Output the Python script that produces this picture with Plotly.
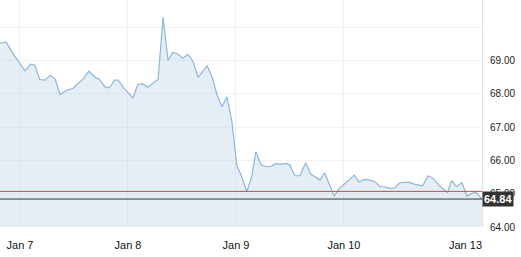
import plotly.graph_objects as go

# Trading-time position in hours since Jan 7 00:00 (weekend removed)
hours = [-4.4, -3.1, -1.8, 1.1, 2.4, 3.3, 4.4, 5.6, 6.7, 7.8, 8.9, 10.4, 11.8, 14.0, 15.3,
         16.7, 17.6, 18.9, 19.8, 21.1, 21.8, 23.1, 25.1, 26.2, 27.3, 28.4, 30.7, 31.8, 32.9,
         34.0, 35.1, 36.2, 37.3, 38.4, 39.6, 41.6, 42.7, 43.8, 44.9, 46.0, 47.1, 48.2, 49.1,
         50.4, 51.5, 52.4, 53.6, 54.8, 55.9, 56.9, 57.8, 59.1, 60.0, 61.1, 62.2, 63.5, 64.6,
         65.6, 66.7, 67.7, 68.9, 69.8, 71.0, 72.6, 74.3, 75.3, 76.7, 77.8, 78.9, 80.0, 81.1,
         82.2, 83.3, 84.4, 85.6, 86.4, 87.8, 89.5, 90.7, 91.8, 93.3, 95.0, 95.9, 97.0, 98.2,
         99.3, 100.4, 101.3, 102.2, 102.7]
prices = [69.52, 69.56, 69.26, 68.69, 68.89, 68.86, 68.43, 68.41, 68.56, 68.45, 67.98, 68.11,
          68.17, 68.44, 68.68, 68.50, 68.44, 68.21, 68.18, 68.41, 68.41, 68.17, 67.88, 68.29,
          68.30, 68.20, 68.44, 70.30, 69.01, 69.25, 69.19, 69.07, 69.19, 68.99, 68.50, 68.84,
          68.51, 67.96, 67.61, 67.91, 67.16, 65.83, 65.58, 65.06, 65.51, 66.26, 65.86, 65.81,
          65.83, 65.91, 65.88, 65.91, 65.86, 65.54, 65.54, 65.93, 65.59, 65.51, 65.41, 65.63,
          65.21, 64.93, 65.16, 65.36, 65.56, 65.36, 65.43, 65.41, 65.36, 65.21, 65.21, 65.16,
          65.18, 65.33, 65.33, 65.35, 65.28, 65.24, 65.54, 65.46, 65.23, 65.04, 65.39, 65.21,
          65.33, 64.93, 65.01, 65.04, 64.91, 64.84]

tick_pos = [0, 24, 48, 72]
tick_labels = ["Jan 7", "Jan 8", "Jan 9", "Jan 10"]
last_label_pos = 98.9
last_label = "Jan 13"

y_ticks = [64, 65, 66, 67, 68, 69, 70]
y_tick_text = ["64.00", "65.00", "66.00", "67.00", "68.00", "69.00", ""]

prev_close = 65.07
last_price = 64.84

fig = go.Figure()
fig.add_trace(go.Scatter(
    x=hours, y=prices, mode="lines",
    line=dict(color="#8db6df", width=1.2),
    fill="tozeroy", fillcolor="rgba(180,205,225,0.35)",
    hoverinfo="skip", showlegend=False,
))

fig.add_hline(y=prev_close, line=dict(color="#c0504d", width=1))
fig.add_hline(y=last_price, line=dict(color="#333333", width=1))

fig.add_annotation(
    x=1, xref="paper", y=last_price, yref="y", xanchor="left", yanchor="middle",
    text=f"<b>{last_price:.2f}</b>", showarrow=False,
    font=dict(family="Liberation Sans, Arial, sans-serif", size=11, color="white"),
    bgcolor="#333333", borderpad=1,
)
fig.add_annotation(
    x=last_label_pos, xref="x", y=0, yref="paper", yanchor="top", xanchor="center",
    yshift=-10, text=last_label, showarrow=False,
    font=dict(family="Liberation Sans, Arial, sans-serif", size=11, color="#111111"),
)

fig.update_layout(
    width=521, height=257,
    margin=dict(l=0, r=39, t=0, b=30),
    paper_bgcolor="white", plot_bgcolor="white",
    font=dict(family="Liberation Sans, Arial, sans-serif", color="#222222"),
    xaxis=dict(
        range=[-4.44, 102.67], tickvals=tick_pos, ticktext=tick_labels,
        showgrid=True, gridcolor="#eef1f4", gridwidth=1, zeroline=False,
        showline=False, ticks="", tickfont=dict(size=11, color="#111111"),
        ticklabelstandoff=10,
    ),
    yaxis=dict(
        side="right", range=[64, 70.82], tickvals=y_ticks, ticktext=y_tick_text,
        showgrid=True, gridcolor="#f1f1f3", gridwidth=1, zeroline=False,
        showline=True, linecolor="#dfdfe8", linewidth=1, ticks="",
        tickfont=dict(size=10, color="#222222"), ticklabelstandoff=5,
    ),
)

fig.write_html("out.html")
